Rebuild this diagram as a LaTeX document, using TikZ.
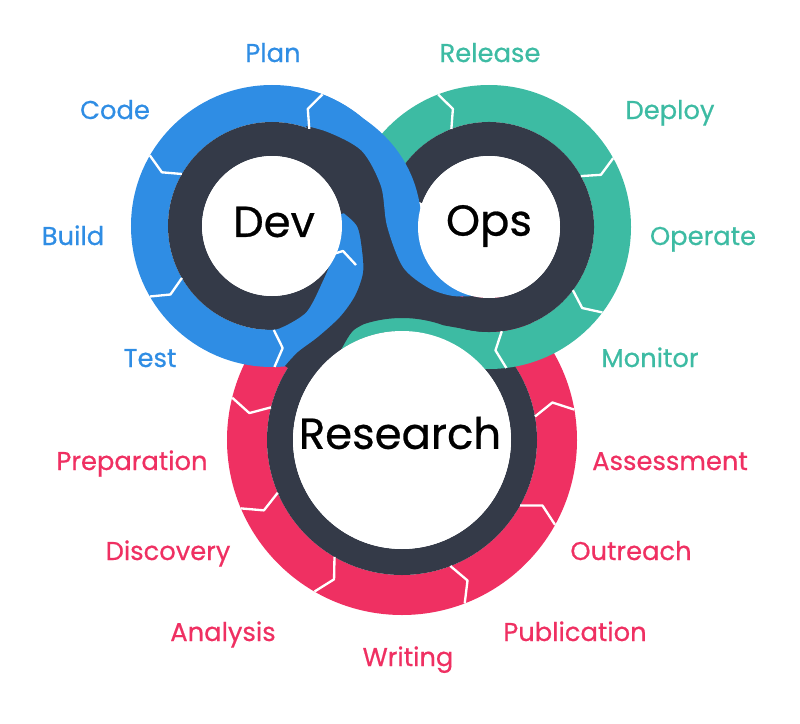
\documentclass[tikz,border=0pt]{standalone}
\usepackage{fontspec}
\setmainfont{Poppins}
\newfontfamily\loopfont{Poppins}[FakeBold=0.6]
\usetikzlibrary{calc}
\definecolor{devblue}{HTML}{2F8DE4}
\definecolor{opsgreen}{HTML}{3DBBA3}
\definecolor{resred}{HTML}{EF3062}
\definecolor{loopdark}{HTML}{343A48}
\tikzset{ring/.style={line width=1.11cm}}
\tikzset{loop/.style={loopdark,line width=1.02cm}}
\tikzset{sepline/.style={white,line width=0.07cm,line join=round}}
\tikzset{lbl/.style={anchor=base,font=\loopfont\fontsize{22}{26}\selectfont}}
\tikzset{core/.style={text=black,font=\loopfont\fontsize{37}{44}\selectfont}}

\begin{document}
\begin{tikzpicture}[x=0.03cm,y=-0.03cm]
  \useasboundingbox (0,0) rectangle (800,724);
  \coordinate (dev) at (272,226);
  \coordinate (ops) at (489,227);
  \coordinate (res) at (402,440);
  % coloured rings
  \draw[resred,line width=1.2cm] (res) circle[radius=155];
  \draw[loopdark,line width=0.78cm] (res) circle[radius=122];
  \draw[opsgreen,ring] (ops) circle[radius=123.5];
  \draw[devblue,ring] (dev) circle[radius=122.5];
  \draw[opsgreen,line width=0.66cm] ($(res)+(236:120)$) arc[start angle=236,end angle=300,radius=120];
  % dark loops
  \draw[loop] (dev) circle[radius=87];
  \draw[loop] ($(ops)+(200:88)$) arc[start angle=200,end angle=470,radius=88];
  \draw[devblue,line width=1.08cm] plot[smooth] coordinates {(342.9,213.5) (350.9,254.7) (337.8,291.8) (318.5,325.7) (282.5,346.5) (250.7,346.6)};
  \fill[loopdark] (470,300) -- (470,330) -- ($(res)+(290:122)$) arc[start angle=290,end angle=252,radius=122]
    .. controls (352,330) .. ($(res)+(236:109)$) arc[start angle=236,end angle=212,radius=109] -- (285,366)
    -- plot[smooth] coordinates {(285,366) (298,352) (318,337) (340,317) (355,296) (363,273) (362,250) (357,226) (341,211)}
    -- (345,180) -- (300,118) -- (340,112) -- (385,150) -- (400,230) -- (430,285) -- cycle;
  % blue crossing band
  \fill[devblue] plot[smooth] coordinates {(290.2,122.6) (326.5,131.6) (361.6,150.8) (381,186.3) (387,226) (402.9,267.1) (428.2,287.8) (452.4,295.9) (476.8,295.9)}
    -- (420.4,208.6) .. controls (415,170) and (395,140) .. (362.6,118) arc[start angle=-50,end angle=-80,radius=141] -- cycle;
  % centres
  \fill[white] (dev) circle[radius=70];
  \fill[white] (ops) circle[radius=71];
  \fill[white] (res) circle[radius=109];
  % segment marks
  \foreach \a in {-69,89,150,210}
    \draw[sepline] ($(dev)+(\a:141)$) -- ($(dev)+({\a-4}:122.5)$) -- ($(dev)+(\a:104)$);
  \draw[sepline] (330,255) -- (343,251) -- (356,265);
  \foreach \a in {-111,-29,37,83}
    \draw[sepline] ($(ops)+(\a:142)$) -- ($(ops)+({\a+4}:123.5)$) -- ($(ops)+(\a:105)$);
  \foreach \a in {-10,29,69,120,157,194}
    \draw[sepline] ($(res)+(\a:175)$) -- ($(res)+({\a-4}:155)$) -- ($(res)+(\a:135)$);
  % names
  \node[core] (devname) at (274,222) {Dev};
  \node[core] (opsname) at (489,226) {Ops};
  \node[core] (resname) at (400,433) {Research};
  \foreach \n/\t/\x/\y in {plan/Plan/273/62, code/Code/115/119, build/Build/73/245, test/Test/150/367}
    \node[lbl,text=devblue] (\n) at (\x,\y) {\t};
  \foreach \n/\t/\x/\y in {release/Release/490/62, deploy/Deploy/670/119, operate/Operate/703/245, monitor/Monitor/650/367}
    \node[lbl,text=opsgreen] (\n) at (\x,\y) {\t};
  \foreach \n/\t/\x/\y in {prep/Preparation/132/470, disc/Discovery/168/560, anal/Analysis/223/641, writ/Writing/408/666,
      publ/Publication/575/641, outr/Outreach/631/560, asse/Assessment/670/470}
    \node[lbl,text=resred] (\n) at (\x,\y) {\t};
\end{tikzpicture}
\end{document}
